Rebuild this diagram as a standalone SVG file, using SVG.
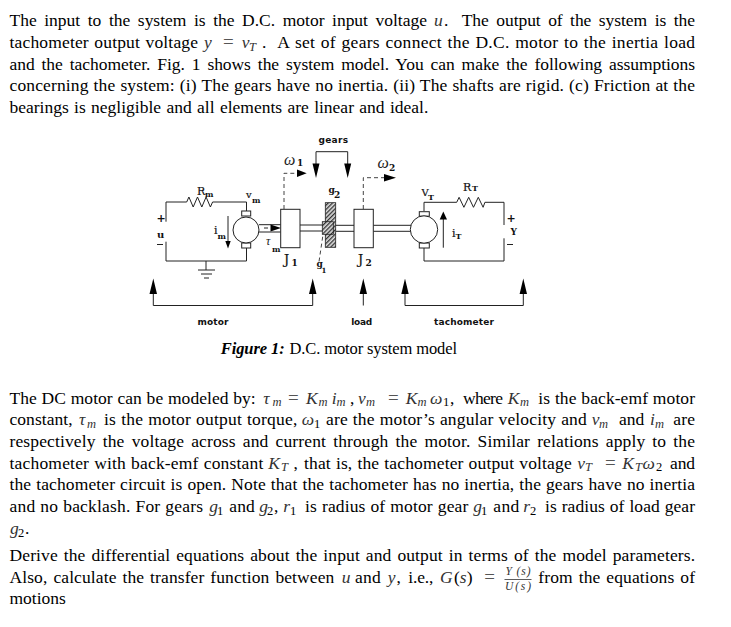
<svg xmlns="http://www.w3.org/2000/svg" width="731" height="627" viewBox="0 0 731 627">
<style>
text{font-family:"Liberation Serif","Times New Roman",serif;font-size:17.5px;fill:#000}
.i{font-style:italic;fill:#333}
.e{fill:#555}
.s{font-size:12.5px}
.f{font-size:11.5px}
.l{font-family:"DejaVu Serif",serif;font-size:11px;fill:#111;stroke:#111;stroke-width:.2}
.ls{font-family:"DejaVu Serif",serif;font-size:8px;font-weight:bold;fill:#111}
.g{font-family:"Liberation Serif",serif;font-style:italic;font-size:16px;fill:#222}
.b{font-family:"DejaVu Sans",sans-serif;font-size:9px;font-weight:bold;fill:#111}
.w{fill:none;stroke:#222;stroke-width:1}
.d{fill:none;stroke:#444;stroke-width:1;stroke-dasharray:4 3}
.box{fill:#fff;stroke:#222;stroke-width:1}
.h{fill:url(#hatch);stroke:#222;stroke-width:.8}
.a{fill:#000}
</style>
<defs>
<pattern id="hatch" width="3" height="3" patternUnits="userSpaceOnUse" patternTransform="rotate(45)"><rect width="3" height="3" fill="#ddd"/><rect width="1.3" height="3" fill="#333"/></pattern>
</defs>

<g id="paragraph-1">
<text y="26"><tspan x="9.5" word-spacing="3.2" textLength="417.5">The input to the system is the D.C. motor input voltage</tspan><tspan x="434" class="i">u</tspan><tspan x="444">.</tspan><tspan x="461.7" word-spacing="3.2" textLength="233.3">The output of the system is the</tspan></text>
<text y="48"><tspan x="9.5" word-spacing="1" textLength="188.5">tachometer output voltage</tspan><tspan x="204" class="i">y</tspan><tspan x="223" class="e" style="font-size:19px">=</tspan><tspan x="241.7" class="i">v</tspan><tspan x="249" y="51" class="i s">T</tspan><tspan x="262" y="48">.</tspan><tspan x="277.3" word-spacing="1" textLength="417.7">A set of gears connect the D.C. motor to the inertia load</tspan></text>
<text x="9.5" y="70" word-spacing="2.6" textLength="685.5">and the tachometer. Fig. 1 shows the system model. You can make the following assumptions</text>
<text x="9.5" y="91" word-spacing=".5" textLength="685.5">concerning the system: (i) The gears have no inertia. (ii) The shafts are rigid. (c) Friction at the</text>
<text x="9.5" y="113" word-spacing="1" textLength="418.8">bearings is negligible and all elements are linear and ideal.</text>
</g>

<g id="connectors">
<path class="w" d="M166 221.7V202H186.7l2.2-5 4.3 10 4.3-10 4.3 10 4.3-10 4.3 10 2.2-5H246.5V211"/>
<path class="w" d="M166 241.7V261H246.5V247.7"/>
<path class="w" d="M206 261V270M198 270H215M201 274H212M204 278H209"/>
<path class="w" d="M424 211V202.3H456.7l2.4-5 4.8 10 4.8-10 4.8 10 4.8-10 4.8 10 1.8-5H504V225"/>
<path class="w" d="M504 238.3V261H424V247.7"/>
<path class="w" d="M228 216V242"/>
<path class="a" d="M225.3 241H230.7L228 248.5z"/>
<path class="w" d="M443.3 247.7V218"/>
<path class="a" d="M439.7 219.5H447L443.3 211.5z"/>
<path class="w" d="M259 224.7H280.7M259 232H280.7M300 225H323M300 231H323M336 225.3H354M336 231.3H354M373.3 225.3H411M373.3 231.3H411"/>
<path d="M264 228H268" stroke="#222" fill="none"/>
<path class="a" d="M270.5 224.5L281 228L270.5 231.5z"/>
<path class="d" d="M284 209V173.3H297"/>
<path class="a" d="M297 169.5L306.7 173.3L297 177z"/>
<path class="d" d="M363.3 209V177.7H384"/>
<path class="a" d="M384 174L396 177.7L384 181.5z"/>
<path class="w" d="M316 165V151.7H347.7V165"/>
<path class="a" d="M312.5 163.5H319.5L316 178zM344.2 163.5H351.2L347.7 178z"/>
<path class="d" d="M322.7 236.7L319 261.7"/>
<path class="w" d="M153.3 293V305.5H312.7V293M363.3 293V305.5M405 293V305.5H523.3V293"/>
<path class="a" d="M149.5 294H157L153.3 278.5zM309 294H316.5L312.7 278.5zM359.6 294H367L363.3 278.5zM401.3 294H408.7L405 278.5zM519.6 294H527L523.3 278.5z"/>
</g>

<g id="source">
<text class="ls" x="156.5" y="222" style="font-size:11px">+</text>
<text class="ls" x="157" y="238" style="font-size:10px">u</text>
<path class="w" d="M157 244.5H163"/>
</g>
<g id="motor">
<rect class="box" x="241.7" y="211" width="9" height="5"/>
<rect class="box" x="241.7" y="243" width="9" height="5"/>
<circle class="box" cx="246" cy="230" r="13"/>
<text class="l" x="197" y="195">R</text><text class="ls" x="205" y="197">m</text>
<text class="l" x="246" y="198" style="font-size:10px">v</text><text class="ls" x="252" y="203">m</text>
<text class="l" x="214" y="234">i</text><text class="ls" x="217.5" y="239">m</text>
<text class="g" x="266" y="245" style="font-size:12px">τ</text><text class="ls" x="272" y="252">m</text>
</g>
<g id="J1">
<rect class="box" x="280.7" y="209.3" width="19.3" height="38.4"/>
<text class="l" x="284" y="264" style="font-size:13px">J</text><text class="ls" x="291.5" y="266" style="font-size:9px">1</text>
<text class="g" x="284" y="165">ω</text><text class="ls" x="297" y="166" style="font-size:9px">1</text>
</g>
<g id="gears">
<rect class="h" x="325.3" y="202.7" width="10.4" height="44.6"/>
<rect class="h" x="322.3" y="221.7" width="11" height="12.6"/>
<text class="b" x="318.5" y="143" textLength="29.5">gears</text>
<text class="ls" x="328.5" y="193" style="font-size:9px">g</text><text class="ls" x="334" y="198" style="font-size:9px">2</text>
<text class="ls" x="316.5" y="267" style="font-size:9px">g</text><text class="ls" x="321.5" y="273" style="font-size:7px">1</text>
</g>
<g id="J2">
<rect class="box" x="354" y="209.3" width="19.3" height="38.4"/>
<text class="l" x="358" y="264" style="font-size:13px">J</text><text class="ls" x="365.5" y="266" style="font-size:9px">2</text>
<text class="g" x="377.5" y="168">ω</text><text class="ls" x="389" y="171" style="font-size:9px">2</text>
</g>
<g id="tachometer">
<rect class="box" x="419.3" y="211.7" width="10" height="4.5"/>
<rect class="box" x="419.3" y="243" width="10" height="5"/>
<circle class="box" cx="424" cy="229.5" r="13.7"/>
<text class="l" x="421.5" y="196" style="font-size:10px">V</text><text class="ls" x="428" y="200">T</text>
<text class="l" x="463" y="191">R</text><text class="ls" x="472" y="191">T</text>
<text class="l" x="452" y="237">i</text><text class="ls" x="455.5" y="239">T</text>
<text class="ls" x="506.5" y="222" style="font-size:11px">+</text>
<text class="ls" x="510.5" y="235" style="font-size:9px">Y</text>
<path class="w" d="M507 244.5H513"/>
</g>

<g id="labels">
<text class="b" x="197.5" y="325" textLength="31">motor</text>
<text class="b" x="351.2" y="325" textLength="21">load</text>
<text class="b" x="434" y="325" textLength="60">tachometer</text>
</g>

<g id="caption">
<text y="354" style="font-size:16.5px"><tspan x="220.7" font-weight="bold" font-style="italic" textLength="64" style="font-size:16.5px">Figure 1:</tspan><tspan x="289.5" textLength="167.5" style="font-size:16.5px">D.C. motor system model</tspan></text>
</g>

<g id="paragraph-2">
<text y="403.5"><tspan x="9.5" word-spacing=".3" textLength="246.2">The DC motor can be modeled by:</tspan><tspan x="263.3" class="i">τ</tspan><tspan x="272.5" y="406" class="i s">m</tspan><tspan x="288" y="403.5" class="e" style="font-size:19px">=</tspan><tspan x="306" class="i">K</tspan><tspan x="318.5" y="406" class="i s">m</tspan><tspan x="331.7" y="403.5" class="i">i</tspan><tspan x="336.5" y="406" class="i s">m</tspan><tspan x="350" y="403.5">,</tspan><tspan x="358" class="i">v</tspan><tspan x="366" y="406" class="i s">m</tspan><tspan x="388" y="403.5" class="e" style="font-size:19px">=</tspan><tspan x="405.7" class="i">K</tspan><tspan x="417.5" y="406" class="i s">m</tspan><tspan x="430" y="403.5" class="i">ω</tspan><tspan x="443" y="406" class="s">1</tspan><tspan x="450" y="403.5">,</tspan><tspan x="463" textLength="40">where</tspan><tspan x="507.7" class="i">K</tspan><tspan x="520" y="406" class="i s">m</tspan><tspan x="538.3" y="403.5" word-spacing=".3" textLength="156.7">is the back-emf motor</tspan></text>
<text y="425.2"><tspan x="9.5" textLength="63">constant,</tspan><tspan x="79" class="i">τ</tspan><tspan x="87" y="428" class="i s">m</tspan><tspan x="104" y="425.2" word-spacing=".5" textLength="193.3">is the motor output torque,</tspan><tspan x="301.7" class="i">ω</tspan><tspan x="314" y="428" class="s">1</tspan><tspan x="326" y="425.2" word-spacing=".5" textLength="260.7">are the motor’s angular velocity and</tspan><tspan x="591.7" class="i">v</tspan><tspan x="599" y="428" class="i s">m</tspan><tspan x="619" y="425.2" textLength="25.3">and</tspan><tspan x="650" class="i">i</tspan><tspan x="655" y="428" class="i s">m</tspan><tspan x="673.3" y="425.2" textLength="21.7">are</tspan></text>
<text x="9.5" y="447" word-spacing="2.6" textLength="685.5">respectively the voltage across and current through the motor. Similar relations apply to the</text>
<text y="468.6"><tspan x="9.5" word-spacing=".5" textLength="253.8">tachometer with back-emf constant</tspan><tspan x="268.3" class="i">K</tspan><tspan x="281" y="471" class="i s">T</tspan><tspan x="293.5" y="468.6">,</tspan><tspan x="304" word-spacing=".5" textLength="267.7">that is, the tachometer output voltage</tspan><tspan x="577.3" class="i">v</tspan><tspan x="585" y="471" class="i s">T</tspan><tspan x="605" y="468.6" class="e" style="font-size:19px">=</tspan><tspan x="622.3" class="i">K</tspan><tspan x="635" y="471" class="i s">T</tspan><tspan x="642.5" y="468.6" class="i">ω</tspan><tspan x="656" y="471" class="s">2</tspan><tspan x="670" y="468.6" textLength="25">and</tspan></text>
<text x="9.5" y="490.3" word-spacing=".5" textLength="685.5">the tachometer circuit is open. Note that the tachometer has no inertia, the gears have no inertia</text>
<text y="512"><tspan x="9.5" word-spacing=".5" textLength="193.5">and no backlash. For gears</tspan><tspan x="209.3" class="i">g</tspan><tspan x="217" y="515" class="s">1</tspan><tspan x="229.3" y="512" textLength="25.5">and</tspan><tspan x="259.3" class="i">g</tspan><tspan x="267" y="515" class="s">2</tspan><tspan x="274" y="512">,</tspan><tspan x="283.3" class="i">r</tspan><tspan x="290" y="515" class="s">1</tspan><tspan x="305" y="512" word-spacing=".5" textLength="163.3">is radius of motor gear</tspan><tspan x="473.3" class="i">g</tspan><tspan x="481" y="515" class="s">1</tspan><tspan x="493.3" y="512" textLength="26">and</tspan><tspan x="523.3" class="i">r</tspan><tspan x="530" y="515" class="s">2</tspan><tspan x="545" y="512" word-spacing=".5" textLength="150">is radius of load gear</tspan></text>
<text y="533.7"><tspan x="10" class="i">g</tspan><tspan x="18" y="537" class="s">2</tspan><tspan x="25" y="533.7">.</tspan></text>
<text x="9.5" y="561" word-spacing="1.5" textLength="685.5">Derive the differential equations about the input and output in terms of the model parameters.</text>
<text y="582.7"><tspan x="9.5" word-spacing="1.5" textLength="324.8">Also, calculate the transfer function between</tspan><tspan x="341.7" class="i">u</tspan><tspan x="355" textLength="25.7">and</tspan><tspan x="387.7" class="i">y</tspan><tspan x="396.5">,</tspan><tspan x="408.3" textLength="25">i.e.,</tspan><tspan x="440" class="i">G</tspan><tspan x="454">(</tspan><tspan class="i">s</tspan><tspan>)</tspan><tspan x="484.3" class="e" style="font-size:19px">=</tspan><tspan x="538.3" word-spacing="1.5" textLength="156.7">from the equations of</tspan></text>
<text class="i f" x="505.5" y="574.5" textLength="25">Y (s)</text>
<path d="M504.5 579.5H531.5" stroke="#333" stroke-width=".8"/>
<text class="i f" x="505" y="590" textLength="26">U(s)</text>
<text x="9.5" y="604">motions</text>
</g>
</svg>
